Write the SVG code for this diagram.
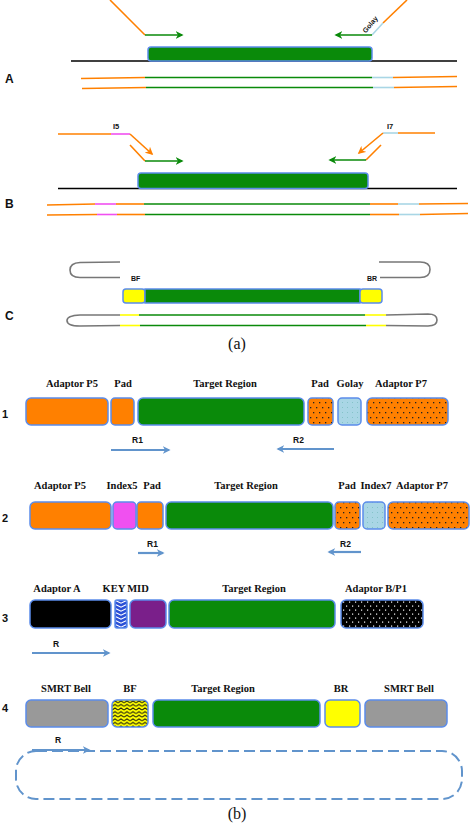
<svg xmlns="http://www.w3.org/2000/svg" width="473" height="828" viewBox="0 0 473 828">
<style>
.box{stroke:#5b8cea;stroke-width:1.5}
.lbl{font-family:"Liberation Serif",serif;font-weight:bold;font-size:10.5px;fill:#111;text-anchor:middle}
.sl{font-family:"Liberation Sans",Arial,sans-serif;font-weight:bold;fill:#111}
.cap{font-family:"Liberation Serif",serif;font-size:16px;fill:#111;text-anchor:middle}
.or{stroke:#ff8000;stroke-width:1.6;fill:none}
.gr{stroke:#0a8a0a;stroke-width:1.6;fill:none}
.lb{stroke:#a9d6e5;stroke-width:1.6;fill:none}
.mg{stroke:#f050f0;stroke-width:1.6;fill:none}
.ye{stroke:#ffff00;stroke-width:1.6;fill:none}
.gy{stroke:#777;stroke-width:1.6;fill:none}
.bk{stroke:#000;stroke-width:1.6;fill:none}
.ba{stroke:#6194cc;stroke-width:2.2;fill:none}
</style>
<defs>
<marker id="ga" viewBox="0 0 10 10" refX="8" refY="5" markerWidth="5" markerHeight="5" orient="auto"><path d="M0,0 L10,5 L0,10 L3,5 z" fill="#0a8a0a"/></marker>
<marker id="oa" viewBox="0 0 10 10" refX="8" refY="5" markerWidth="5" markerHeight="5" orient="auto"><path d="M0,0 L10,5 L0,10 L3,5 z" fill="#ff8000"/></marker>
<marker id="ba" viewBox="0 0 10 10" refX="8" refY="5" markerWidth="3.6" markerHeight="3.6" orient="auto"><path d="M0,0 L10,5 L0,10 L3,5 z" fill="#6194cc"/></marker>
<pattern id="pdot" width="6" height="10" patternUnits="userSpaceOnUse"><rect width="6" height="10" fill="#ff8000"/><rect x="1" y="2" width="1.3" height="1.3" fill="#222"/><rect x="4" y="7" width="1.3" height="1.3" fill="#222"/></pattern>
<pattern id="wdot" width="6" height="8" patternUnits="userSpaceOnUse"><rect width="6" height="8" fill="#000"/><rect x="1" y="1.5" width="1.2" height="1.2" fill="#fff"/><rect x="4" y="5.5" width="1.2" height="1.2" fill="#fff"/></pattern>
<pattern id="ldot" width="5" height="5" patternUnits="userSpaceOnUse"><rect width="5" height="5" fill="#a9d6e5"/><rect x="2" y="2" width="0.8" height="0.8" fill="#6fb8b8"/></pattern>
<pattern id="key" x="115" y="600" width="12" height="4" patternUnits="userSpaceOnUse"><rect width="12" height="4" fill="#2a4fd6"/><path d="M1,0.8 L6,3.2 L11,0.8" stroke="#fff" stroke-width="1.2" fill="none"/></pattern>
<pattern id="bfz" x="112" y="700" width="6" height="3.6" patternUnits="userSpaceOnUse"><rect width="6" height="3.6" fill="#ffff00"/><path d="M0,2.8 L3,0.8 L6,2.8" stroke="#111" stroke-width="1.1" fill="none"/></pattern>
</defs>

<!-- Panel (a) A -->
<g id="panelA">
<line x1="71" y1="61" x2="457" y2="61" class="bk"/>
<rect x="148" y="47" width="224" height="14" rx="3" fill="#0a8a0a" class="box"/>
<text x="5" y="83" class="sl" font-size="12">A</text>
</g>
<g id="primersA">
<line x1="110" y1="0" x2="145" y2="35" class="or"/>
<line x1="145" y1="35" x2="182" y2="35" class="gr" stroke-width="1.8" marker-end="url(#ga)"/>
<line x1="407" y1="0" x2="383" y2="23" class="or"/>
<line x1="383" y1="23" x2="372" y2="35" class="lb"/>
<line x1="372" y1="35" x2="336" y2="35" class="gr" stroke-width="1.8" marker-end="url(#ga)"/>
<text class="sl" font-size="7" text-anchor="middle" transform="translate(372,26) rotate(-50)">Golay</text>
</g>
<g id="productA">
<line x1="81" y1="78.5" x2="145" y2="77.5" class="or"/>
<line x1="145" y1="77.5" x2="372" y2="77.5" class="gr"/>
<line x1="372" y1="77.5" x2="393" y2="77.5" class="lb"/>
<line x1="393" y1="77.5" x2="457" y2="76.5" class="or"/>
<line x1="82" y1="88.5" x2="146" y2="87.5" class="or"/>
<line x1="146" y1="87.5" x2="373" y2="87.5" class="gr" stroke-width="2"/>
<line x1="373" y1="87.5" x2="394" y2="87.5" class="lb"/>
<line x1="394" y1="87.5" x2="457" y2="86.5" class="or"/>
</g>

<!-- Panel (a) B -->
<g id="panelB">
<line x1="58" y1="188.5" x2="457" y2="188.5" class="bk"/>
<rect x="138" y="173" width="230" height="15.5" rx="3" fill="#0a8a0a" class="box"/>
<text x="5" y="208" class="sl" font-size="12">B</text>
</g>
<g id="primersB">
<line x1="58" y1="134" x2="111" y2="134" class="or"/>
<line x1="111" y1="134" x2="130" y2="134" class="mg"/>
<line x1="130" y1="134" x2="152" y2="154" class="or" stroke-width="1.8" marker-end="url(#oa)"/>
<line x1="130" y1="145" x2="145" y2="161" class="or" stroke-width="1.8"/>
<line x1="145" y1="161" x2="182" y2="161" class="gr" stroke-width="1.8" marker-end="url(#ga)"/>
<text x="113" y="129" class="sl" font-size="7.5">I5</text>
<line x1="383" y1="133" x2="398" y2="133" class="lb"/>
<line x1="398" y1="133" x2="435" y2="133" class="or"/>
<line x1="383" y1="133" x2="359" y2="153" class="or" stroke-width="1.8" marker-end="url(#oa)"/>
<line x1="381" y1="145" x2="366" y2="160" class="or" stroke-width="1.8"/>
<line x1="366" y1="160" x2="330" y2="160" class="gr" stroke-width="1.8" marker-end="url(#ga)"/>
<text x="387" y="129" class="sl" font-size="7.5">I7</text>
</g>
<g id="productB">
<line x1="47" y1="205" x2="95" y2="204" class="or"/>
<line x1="95" y1="204" x2="116" y2="204" class="mg"/>
<line x1="116" y1="204" x2="144" y2="204" class="or"/>
<line x1="144" y1="204" x2="370" y2="204" class="gr"/>
<line x1="370" y1="204" x2="398" y2="204" class="or"/>
<line x1="398" y1="204" x2="419" y2="204" class="lb"/>
<line x1="419" y1="204" x2="468" y2="203.5" class="or"/>
<line x1="47" y1="215" x2="97" y2="214.5" class="or"/>
<line x1="97" y1="214.5" x2="117" y2="214.5" class="mg"/>
<line x1="117" y1="214.5" x2="145" y2="214.5" class="or"/>
<line x1="145" y1="214.5" x2="370" y2="214.5" class="gr"/>
<line x1="370" y1="214.5" x2="399" y2="214.5" class="or"/>
<line x1="399" y1="214.5" x2="420" y2="214.5" class="lb"/>
<line x1="420" y1="214.5" x2="468" y2="213.5" class="or"/>
</g>

<!-- Panel (a) C -->
<g id="panelC">
<path d="M120,262 L80,262.5 Q70,263 70,270 Q70,277.5 80,277.5 L120,277.5" class="gy"/>
<path d="M379,262 L420,262 Q430,262 430,269.5 Q430,277.5 420,277.5 L380,277.5" class="gy"/>
<text x="131" y="281" class="sl" font-size="7">BF</text>
<text x="367" y="281" class="sl" font-size="7">BR</text>
<rect x="123" y="289" width="22" height="14" rx="3" fill="#ffff00" class="box"/>
<rect x="145" y="289" width="215" height="14" fill="#0a8a0a" class="box"/>
<rect x="360" y="289" width="22" height="14" rx="3" fill="#ffff00" class="box"/>
<text x="5" y="320" class="sl" font-size="12">C</text>
</g>
<g id="productC">
<path d="M120,315 L80,315 Q67,315.5 67,320.5 Q67,326 80,326 L120,325.5" class="gy"/>
<line x1="120" y1="315" x2="139" y2="315" class="ye"/>
<line x1="139" y1="315" x2="365" y2="315" class="gr"/>
<line x1="365" y1="315" x2="386" y2="315" class="ye"/>
<line x1="120" y1="325.5" x2="140" y2="325.5" class="ye"/>
<line x1="140" y1="325.5" x2="366" y2="325.5" class="gr"/>
<line x1="366" y1="325.5" x2="386" y2="325.5" class="ye"/>
<path d="M386,315 L428,314 Q437,314 437,320 Q437,326 428,326 L386,325.5" class="gy"/>
</g>
<text x="237" y="349" class="cap">(a)</text>

<!-- Panel (b) row 1 -->
<g id="row1">
<text x="2" y="418" class="sl" font-size="11">1</text>
<text x="72" y="387" class="lbl">Adaptor P5</text>
<text x="123" y="387" class="lbl">Pad</text>
<text x="225" y="387" class="lbl">Target Region</text>
<text x="320" y="387" class="lbl">Pad</text>
<text x="350" y="387" class="lbl">Golay</text>
<text x="401" y="387" class="lbl">Adaptor P7</text>
<rect x="26" y="398" width="82" height="27" rx="5" fill="#ff8000" class="box"/>
<rect x="111" y="398" width="23" height="27" rx="4" fill="#ff8000" class="box" stroke="#3355cc"/>
<rect x="138" y="398" width="166" height="27" rx="5" fill="#0a8a0a" class="box"/>
<rect x="308" y="398" width="25" height="27" rx="4" fill="url(#pdot)" class="box" stroke="#3355cc"/>
<rect x="338" y="398" width="23" height="27" rx="4" fill="url(#ldot)" class="box"/>
<rect x="367" y="398" width="81" height="27" rx="5" fill="url(#pdot)" class="box"/>
<text x="132" y="443" class="sl" font-size="8.5">R1</text>
<text x="293" y="443" class="sl" font-size="8.5">R2</text>
<line x1="111" y1="450" x2="169" y2="450" class="ba" marker-end="url(#ba)"/>
<line x1="334" y1="449" x2="278" y2="449" class="ba" marker-end="url(#ba)"/>
</g>

<!-- row 2 -->
<g id="row2">
<text x="2" y="522" class="sl" font-size="11">2</text>
<text x="60" y="489" class="lbl">Adaptor P5</text>
<text x="122" y="489" class="lbl">Index5</text>
<text x="152" y="489" class="lbl">Pad</text>
<text x="246" y="489" class="lbl">Target Region</text>
<text x="347" y="489" class="lbl">Pad</text>
<text x="376" y="489" class="lbl">Index7</text>
<text x="422" y="489" class="lbl">Adaptor P7</text>
<rect x="30" y="502" width="81" height="27" rx="5" fill="#ff8000" class="box"/>
<rect x="113" y="502" width="23" height="27" rx="4" fill="#f050f0" class="box"/>
<rect x="137" y="502" width="26" height="27" rx="4" fill="#ff8000" class="box" stroke="#3355cc"/>
<rect x="166" y="502" width="167" height="27" rx="5" fill="#0a8a0a" class="box"/>
<rect x="335" y="502" width="25" height="27" rx="4" fill="url(#pdot)" class="box" stroke="#3355cc"/>
<rect x="363" y="502" width="22" height="27" rx="4" fill="url(#ldot)" class="box"/>
<rect x="388" y="502" width="81" height="27" rx="5" fill="url(#pdot)" class="box"/>
<text x="147" y="547" class="sl" font-size="8.5">R1</text>
<text x="340" y="547" class="sl" font-size="8.5">R2</text>
<line x1="138" y1="553" x2="163" y2="553" class="ba" marker-end="url(#ba)"/>
<line x1="361" y1="552" x2="329" y2="552" class="ba" marker-end="url(#ba)"/>
</g>

<!-- row 3 -->
<g id="row3">
<text x="2" y="622" class="sl" font-size="11">3</text>
<text x="57" y="592" class="lbl">Adaptor A</text>
<text x="114" y="592" class="lbl" font-size="10px">KEY</text>
<text x="138" y="592" class="lbl" font-size="10px">MID</text>
<text x="254" y="592" class="lbl">Target Region</text>
<text x="376" y="592" class="lbl">Adaptor B/P1</text>
<rect x="30" y="600" width="81" height="28" rx="5" fill="#000" class="box"/>
<rect x="115" y="600" width="12" height="28" rx="2" fill="url(#key)" class="box"/>
<rect x="130" y="600" width="36" height="28" rx="5" fill="#7a1f8a" class="box"/>
<rect x="169" y="600" width="166" height="28" rx="5" fill="#0a8a0a" class="box"/>
<rect x="341" y="600" width="82" height="28" rx="5" fill="url(#wdot)" class="box"/>
<text x="53" y="647" class="sl" font-size="8.5">R</text>
<line x1="32" y1="653" x2="109" y2="653" class="ba" marker-end="url(#ba)"/>
</g>

<!-- row 4 -->
<g id="row4">
<text x="2" y="712" class="sl" font-size="11">4</text>
<text x="66" y="692" class="lbl">SMRT Bell</text>
<text x="130" y="692" class="lbl">BF</text>
<text x="223" y="692" class="lbl">Target Region</text>
<text x="341" y="692" class="lbl">BR</text>
<text x="409" y="692" class="lbl">SMRT Bell</text>
<rect x="26" y="700" width="82" height="27" rx="5" fill="#999" class="box"/>
<rect x="112" y="700" width="36" height="27" rx="5" fill="url(#bfz)" class="box"/>
<rect x="153" y="700" width="167" height="27" rx="5" fill="#0a8a0a" class="box"/>
<rect x="325" y="700" width="35" height="27" rx="5" fill="#ffff00" class="box"/>
<rect x="365" y="700" width="82" height="27" rx="5" fill="#999" class="box"/>
<text x="55" y="743" class="sl" font-size="8.5">R</text>
</g>
<g id="connectors">
<rect x="16" y="751" width="446" height="48" rx="20" fill="none" stroke="#6194cc" stroke-width="2" stroke-dasharray="11,5"/>
<line x1="32" y1="750" x2="89" y2="750" class="ba" marker-end="url(#ba)"/>
</g>
<text x="237" y="819" class="cap">(b)</text>
</svg>
